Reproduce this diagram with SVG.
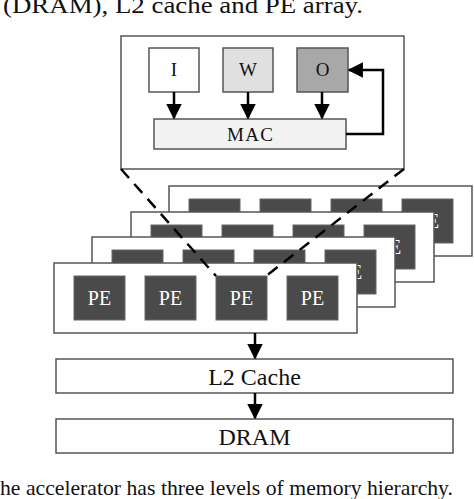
<svg xmlns="http://www.w3.org/2000/svg" width="474" height="499" viewBox="0 0 474 499">
<defs>
<style>
text{font-family:"Liberation Serif","Times New Roman",serif;text-anchor:middle}
.box{stroke:#555;stroke-width:1.5}
.plane{fill:#fff;stroke:#555;stroke-width:1.5}
.pe{fill:#4a4a4a;stroke:#666;stroke-width:1}
.pet{fill:#fff;font-size:20px}
.lbl{fill:#111;font-size:19px}
.big{fill:#111;font-size:24px}
.cap{fill:#111;font-size:22px;text-anchor:start}
.ln{stroke:#000;stroke-width:2.5;fill:none}
.dash{stroke:#000;stroke-width:2.5;stroke-dasharray:12,8;fill:none}
</style>
<marker id="ah" viewBox="0 0 10 10" refX="9" refY="5" markerWidth="6.2" markerHeight="6.2" markerUnits="strokeWidth" orient="auto">
<path d="M0,0 L10,5 L0,10 z" fill="#000"/>
</marker>
<g id="peRow">
<rect class="plane" x="0" y="0" width="303" height="70"/>
<rect class="pe" x="20" y="13" width="51" height="44"/>
<text class="pet" x="45.5" y="42">PE</text>
<rect class="pe" x="91" y="13" width="51" height="44"/>
<text class="pet" x="116.5" y="42">PE</text>
<rect class="pe" x="162" y="13" width="51" height="44"/>
<text class="pet" x="187.5" y="42">PE</text>
<rect class="pe" x="233" y="13" width="51" height="44"/>
<text class="pet" x="258.5" y="42">PE</text>
</g>
</defs>
<rect width="474" height="499" fill="#fff"/>
<text class="cap" x="3" y="13" style="font-size:24px" textLength="360" lengthAdjust="spacingAndGlyphs">(DRAM), L2 cache and PE array.</text>

<g id="plane4"><use href="#peRow" x="169" y="186"/></g>
<g id="plane3"><use href="#peRow" x="131" y="212"/></g>
<g id="plane2"><use href="#peRow" x="92" y="237"/></g>
<g id="plane1"><use href="#peRow" x="54" y="263"/></g>

<g id="pe-detail">
<rect x="121" y="36" width="283" height="133" fill="#fff" stroke="#555" stroke-width="1.5"/>
</g>
<g id="I"><rect class="box" x="149" y="48" width="50" height="44" fill="#fff"/><text class="lbl" x="174" y="76">I</text></g>
<g id="W"><rect class="box" x="223" y="48" width="50" height="44" fill="#e0e0e0"/><text class="lbl" x="248" y="76">W</text></g>
<g id="O"><rect class="box" x="297" y="48" width="51" height="44" fill="#a8a8a8"/><text class="lbl" x="322.5" y="76">O</text></g>
<g id="MAC"><rect class="box" x="154" y="119" width="192" height="30" fill="#f2f2f2"/><text class="lbl" x="250" y="141" textLength="46" lengthAdjust="spacing">MAC</text></g>

<g id="L2"><rect class="box" x="56" y="359" width="397" height="34" fill="#fff"/><text class="big" x="254.5" y="385">L2 Cache</text></g>
<g id="DRAM"><rect class="box" x="56" y="419" width="397" height="34" fill="#fff"/><text class="big" x="254.5" y="445">DRAM</text></g>

<g id="connectors">
<line class="ln" x1="174" y1="92" x2="174" y2="118" marker-end="url(#ah)"/>
<line class="ln" x1="248" y1="92" x2="248" y2="118" marker-end="url(#ah)"/>
<line class="ln" x1="322" y1="92" x2="322" y2="118" marker-end="url(#ah)"/>
<polyline class="ln" points="346,134 383,134 383,70 349,70" marker-end="url(#ah)"/>
<line class="dash" x1="121" y1="169" x2="216" y2="276"/>
<line class="dash" x1="404" y1="169" x2="266" y2="276"/>
<line class="ln" x1="255" y1="333" x2="255" y2="358" marker-end="url(#ah)"/>
<line class="ln" x1="255" y1="393" x2="255" y2="418" marker-end="url(#ah)"/>
</g>
<text class="cap" x="0" y="495" textLength="453" lengthAdjust="spacingAndGlyphs">he accelerator has three levels of memory hierarchy.</text>
</svg>
